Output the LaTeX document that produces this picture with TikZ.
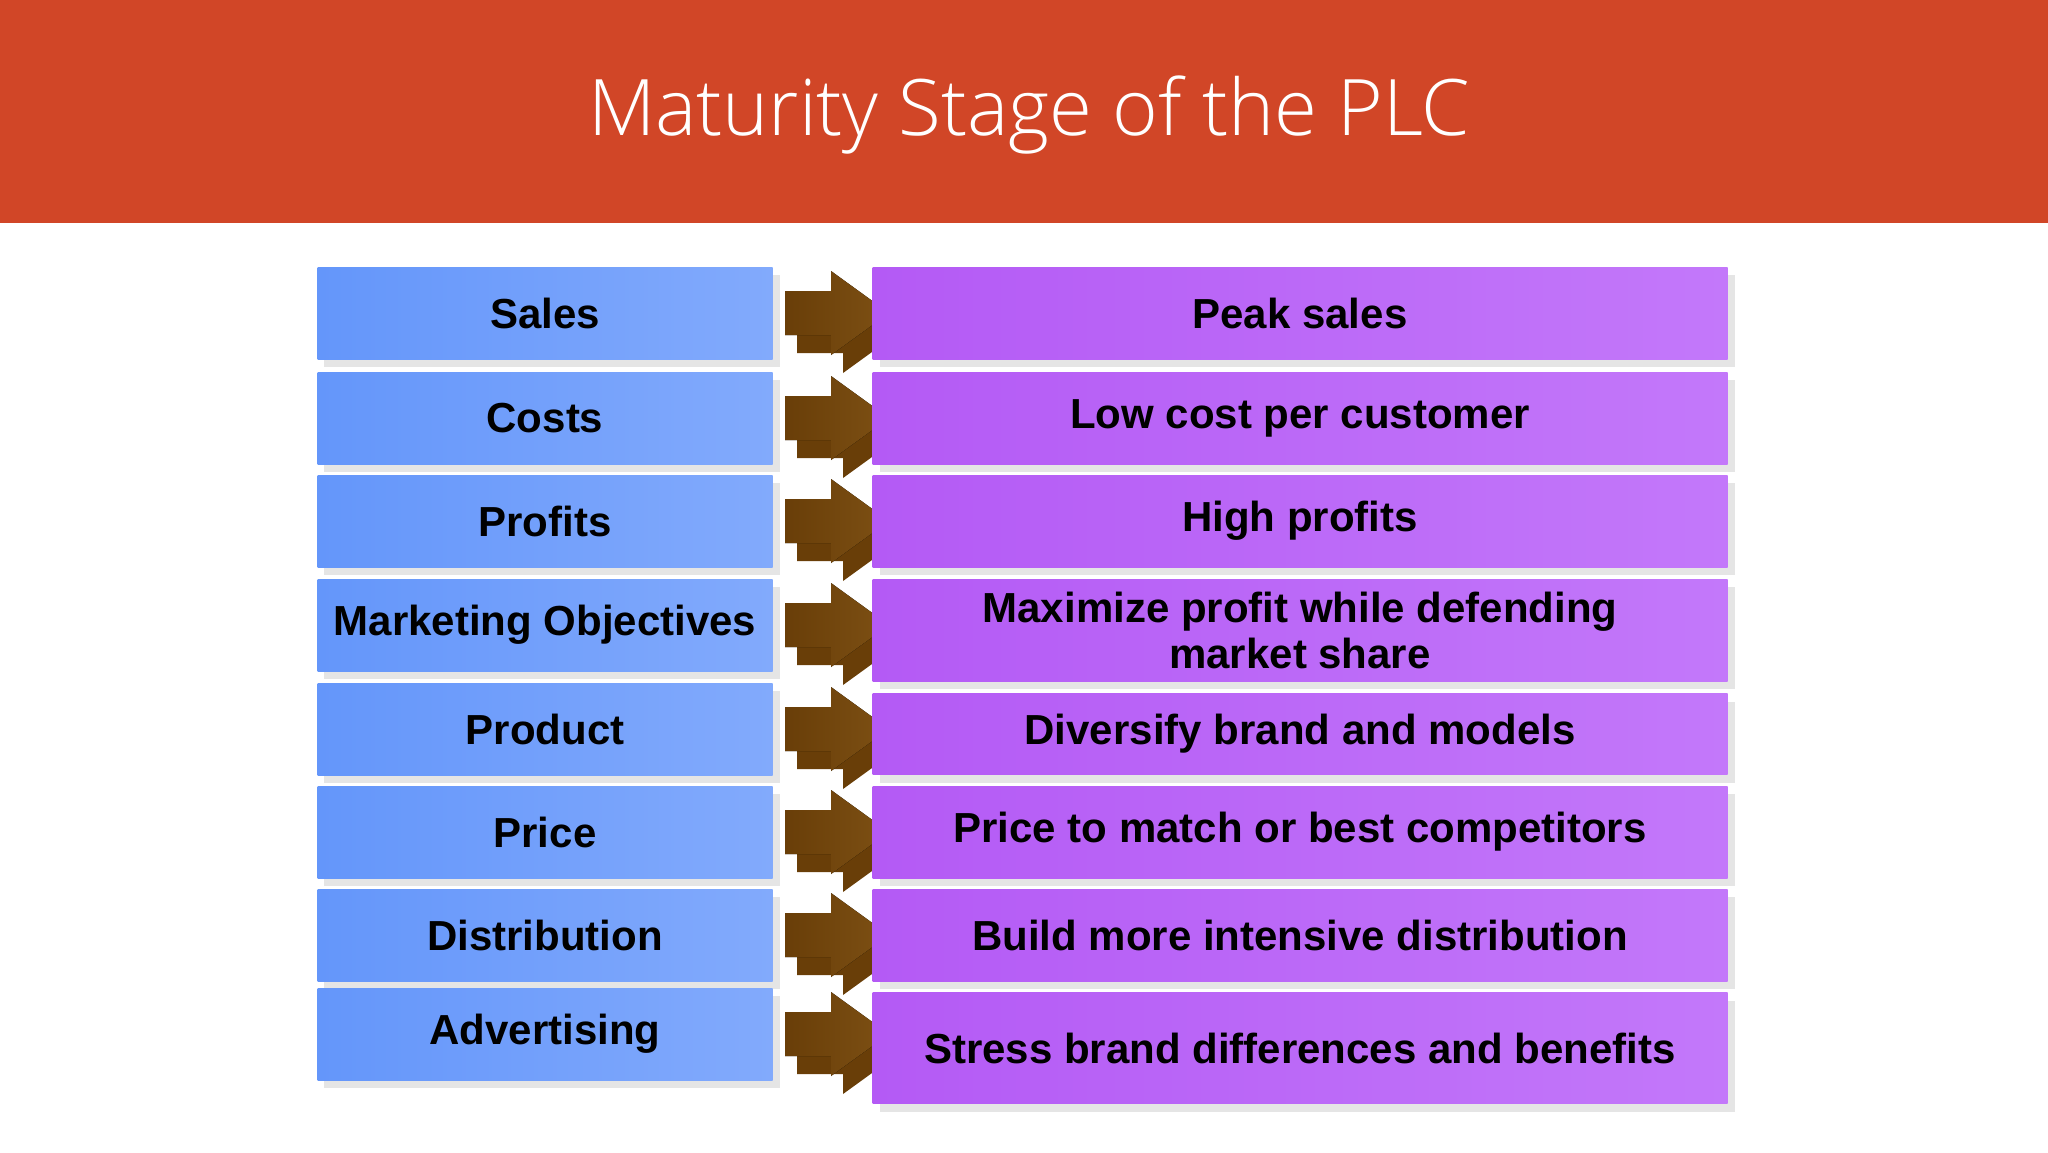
\documentclass[tikz,border=0pt]{standalone}
\usepackage{fontspec}
\setmainfont{Liberation Sans}
\newfontfamily\titlefont{Open Sans Light}
\definecolor{titlered}{RGB}{209,70,39}
\definecolor{boxblue}{RGB}{100,150,250}
\definecolor{boxbluelight}{RGB}{130,170,252}
\definecolor{boxpurple}{RGB}{180,90,245}
\definecolor{boxpurplelight}{RGB}{195,120,250}
\definecolor{arrowbrown}{RGB}{125,80,20}
\definecolor{arrowdark}{RGB}{105,62,8}
\tikzset{
  lbox/.style={minimum width=227.5pt, minimum height=46pt, inner sep=0,
    left color=boxblue, right color=boxbluelight, font=\bfseries\fontsize{21}{23}\selectfont,
    align=center},
  rbox/.style={minimum width=427.5pt, minimum height=46pt, inner sep=0,
    left color=boxpurple, right color=boxpurplelight, font=\bfseries\fontsize{21}{23}\selectfont,
    align=center},
  shade/.style={fill=black!10},
}
\def\blockarrow#1#2{%
  \fill[arrowdark] ({#1+12},{#2+18}) ++(-51,-15) -- ++(46,0) -- ++(0,-20)
    -- ++(58,42) -- ++(-58,42) -- ++(0,-20) -- ++(-46,0) -- cycle;
  \fill[left color=arrowdark, right color=arrowbrown] (#1,#2) ++(-51,-15) -- ++(46,0) -- ++(0,-20)
    -- ++(58,42) -- ++(-58,42) -- ++(0,-20) -- ++(-46,0) -- cycle;}

\begin{document}
\begin{tikzpicture}[x=0.5pt,y=-0.5pt]
  \useasboundingbox (0,0) rectangle (2048,1152);
  \fill[white] (0,0) rectangle (2048,1152);

  % title bar
  \fill[titlered] (0,0) rectangle (2048,223);
  \node[text=white, font=\titlefont\fontsize{39}{44}\selectfont] (title) at (1029,115) {Maturity Stage of the PLC};

  % rows: y-centre / height of right box / left text / right text
  \foreach \i/\ly/\ry/\rh/\ltext/\rtext in {
      1/313/313/92/Sales/Peak sales,
      2/418/418/92/Costs/Low cost per customer,
      3/521/521/92/Profits/High profits,
      4/625/630/102/Marketing Objectives/{Maximize profit while defending\\market share},
      5/729/734/81/Product/Diversify brand and models,
      6/832/832/92/Price/Price to match or best competitors,
      7/935/935/92/Distribution/Build more intensive distribution,
      8/1034/1048/111/Advertising/Stress brand differences and benefits} {
    \fill[shade] (324,\ly-38) rectangle (780,\ly+54);
    \node[lbox] (l\i) at (545,\ly) {\ltext};
    \fill[shade] (880,\ry-\rh/2+8) rectangle (1735,\ry+\rh/2+8);
    \blockarrow{836}{\ly-7}
    \node[rbox, minimum height=\rh*0.5pt] (r\i) at (1300,\ry) {\rtext};
  }

\end{tikzpicture}
\end{document}
